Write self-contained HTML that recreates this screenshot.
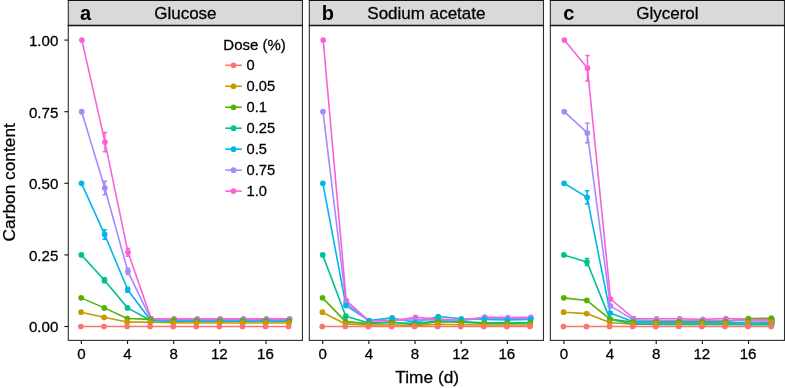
<!DOCTYPE html>
<html><head><meta charset="utf-8"><title>Carbon content</title>
<style>html,body{margin:0;padding:0;background:#fff}svg{display:block}</style></head>
<body>
<svg width="785" height="388" viewBox="0 0 785 388" font-family="Liberation Sans, Arial, sans-serif"><style>text{stroke:#000;stroke-width:0.28px;stroke-linejoin:round}</style>
<rect width="785" height="388" fill="#fff"/>
<g><polyline points="80.88,326.50 103.95,326.50 127.03,326.50 150.12,326.50 173.19,326.50 196.27,326.50 219.35,326.50 242.44,326.50 265.51,326.50 288.59,326.50" fill="none" stroke="#F8766D" stroke-width="1.6" stroke-linejoin="round"/><polyline points="81.04,312.18 104.12,317.34 127.20,321.92 150.28,322.20 173.36,322.78 196.44,323.06 219.52,323.06 242.60,323.06 265.68,323.06 288.76,323.06" fill="none" stroke="#C49A00" stroke-width="1.6" stroke-linejoin="round"/><polyline points="81.20,297.86 104.28,307.88 127.36,318.48 150.44,319.34 173.52,320.20 196.60,320.77 219.69,320.77 242.76,320.77 265.84,320.77 288.92,320.77" fill="none" stroke="#53B400" stroke-width="1.6" stroke-linejoin="round"/><polyline points="81.37,254.90 104.45,280.22 127.53,307.88 150.61,320.49 173.69,320.77 196.77,320.77 219.85,320.77 242.93,320.77 266.01,320.77 289.09,320.77" fill="none" stroke="#00C094" stroke-width="1.6" stroke-linejoin="round"/><polyline points="81.54,183.30 104.62,234.42 127.70,289.73 150.78,320.77 173.86,321.20 196.94,321.20 220.01,321.20 243.10,321.20 266.18,321.20 289.25,321.20" fill="none" stroke="#00B6EB" stroke-width="1.6" stroke-linejoin="round"/><polyline points="81.70,111.70 104.78,187.97 127.86,271.31 150.94,319.34 174.02,319.63 197.10,319.63 220.18,319.63 243.26,319.63 266.34,319.63 289.42,319.63" fill="none" stroke="#A58AFF" stroke-width="1.6" stroke-linejoin="round"/><polyline points="81.87,40.10 104.95,142.06 128.03,252.32 151.11,318.48 174.19,318.91 197.26,318.91 220.34,318.91 243.43,318.91 266.50,318.91 289.58,318.91" fill="none" stroke="#FB61D7" stroke-width="1.6" stroke-linejoin="round"/><path d="M102.64,132.46H107.26M104.95,132.46V151.65M102.64,151.65H107.26" fill="none" stroke="#FB61D7" stroke-width="1.5"/><path d="M125.72,248.43H130.34M128.03,248.43V256.22M125.72,256.22H130.34" fill="none" stroke="#FB61D7" stroke-width="1.5"/><path d="M102.47,181.24H107.09M104.78,181.24V194.70M102.47,194.70H107.09" fill="none" stroke="#A58AFF" stroke-width="1.5"/><path d="M125.55,268.16H130.17M127.86,268.16V274.46M125.55,274.46H130.17" fill="none" stroke="#A58AFF" stroke-width="1.5"/><path d="M102.31,229.67H106.93M104.62,229.67V239.18M102.31,239.18H106.93" fill="none" stroke="#00B6EB" stroke-width="1.5"/><path d="M125.39,287.15H130.00M127.70,287.15V292.30M125.39,292.30H130.00" fill="none" stroke="#00B6EB" stroke-width="1.5"/><path d="M102.14,277.64H106.76M104.45,277.64V282.80M102.14,282.80H106.76" fill="none" stroke="#00C094" stroke-width="1.5"/><path d="M125.22,306.74H129.84M127.53,306.74V309.03M125.22,309.03H129.84" fill="none" stroke="#00C094" stroke-width="1.5"/><circle cx="81.87" cy="40.10" r="2.85" fill="#FB61D7"/><circle cx="104.95" cy="142.06" r="2.85" fill="#FB61D7"/><circle cx="128.03" cy="252.32" r="2.85" fill="#FB61D7"/><circle cx="151.11" cy="318.48" r="2.85" fill="#FB61D7"/><circle cx="174.19" cy="318.91" r="2.85" fill="#FB61D7"/><circle cx="197.26" cy="318.91" r="2.85" fill="#FB61D7"/><circle cx="220.34" cy="318.91" r="2.85" fill="#FB61D7"/><circle cx="243.43" cy="318.91" r="2.85" fill="#FB61D7"/><circle cx="266.50" cy="318.91" r="2.85" fill="#FB61D7"/><circle cx="289.58" cy="318.91" r="2.85" fill="#FB61D7"/><circle cx="81.70" cy="111.70" r="2.85" fill="#A58AFF"/><circle cx="104.78" cy="187.97" r="2.85" fill="#A58AFF"/><circle cx="127.86" cy="271.31" r="2.85" fill="#A58AFF"/><circle cx="150.94" cy="319.34" r="2.85" fill="#A58AFF"/><circle cx="174.02" cy="319.63" r="2.85" fill="#A58AFF"/><circle cx="197.10" cy="319.63" r="2.85" fill="#A58AFF"/><circle cx="220.18" cy="319.63" r="2.85" fill="#A58AFF"/><circle cx="243.26" cy="319.63" r="2.85" fill="#A58AFF"/><circle cx="266.34" cy="319.63" r="2.85" fill="#A58AFF"/><circle cx="289.42" cy="319.63" r="2.85" fill="#A58AFF"/><circle cx="81.54" cy="183.30" r="2.85" fill="#00B6EB"/><circle cx="104.62" cy="234.42" r="2.85" fill="#00B6EB"/><circle cx="127.70" cy="289.73" r="2.85" fill="#00B6EB"/><circle cx="150.78" cy="320.77" r="2.85" fill="#00B6EB"/><circle cx="173.86" cy="321.20" r="2.85" fill="#00B6EB"/><circle cx="196.94" cy="321.20" r="2.85" fill="#00B6EB"/><circle cx="220.01" cy="321.20" r="2.85" fill="#00B6EB"/><circle cx="243.10" cy="321.20" r="2.85" fill="#00B6EB"/><circle cx="266.18" cy="321.20" r="2.85" fill="#00B6EB"/><circle cx="289.25" cy="321.20" r="2.85" fill="#00B6EB"/><circle cx="81.37" cy="254.90" r="2.85" fill="#00C094"/><circle cx="104.45" cy="280.22" r="2.85" fill="#00C094"/><circle cx="127.53" cy="307.88" r="2.85" fill="#00C094"/><circle cx="150.61" cy="320.49" r="2.85" fill="#00C094"/><circle cx="173.69" cy="320.77" r="2.85" fill="#00C094"/><circle cx="196.77" cy="320.77" r="2.85" fill="#00C094"/><circle cx="219.85" cy="320.77" r="2.85" fill="#00C094"/><circle cx="242.93" cy="320.77" r="2.85" fill="#00C094"/><circle cx="266.01" cy="320.77" r="2.85" fill="#00C094"/><circle cx="289.09" cy="320.77" r="2.85" fill="#00C094"/><circle cx="81.20" cy="297.86" r="2.85" fill="#53B400"/><circle cx="104.28" cy="307.88" r="2.85" fill="#53B400"/><circle cx="127.36" cy="318.48" r="2.85" fill="#53B400"/><circle cx="150.44" cy="319.34" r="2.85" fill="#53B400"/><circle cx="173.52" cy="320.20" r="2.85" fill="#53B400"/><circle cx="196.60" cy="320.77" r="2.85" fill="#53B400"/><circle cx="219.69" cy="320.77" r="2.85" fill="#53B400"/><circle cx="242.76" cy="320.77" r="2.85" fill="#53B400"/><circle cx="265.84" cy="320.77" r="2.85" fill="#53B400"/><circle cx="288.92" cy="320.77" r="2.85" fill="#53B400"/><circle cx="81.04" cy="312.18" r="2.85" fill="#C49A00"/><circle cx="104.12" cy="317.34" r="2.85" fill="#C49A00"/><circle cx="127.20" cy="321.92" r="2.85" fill="#C49A00"/><circle cx="150.28" cy="322.20" r="2.85" fill="#C49A00"/><circle cx="173.36" cy="322.78" r="2.85" fill="#C49A00"/><circle cx="196.44" cy="323.06" r="2.85" fill="#C49A00"/><circle cx="219.52" cy="323.06" r="2.85" fill="#C49A00"/><circle cx="242.60" cy="323.06" r="2.85" fill="#C49A00"/><circle cx="265.68" cy="323.06" r="2.85" fill="#C49A00"/><circle cx="288.76" cy="323.06" r="2.85" fill="#C49A00"/><circle cx="80.88" cy="326.50" r="2.85" fill="#F8766D"/><circle cx="103.95" cy="326.50" r="2.85" fill="#F8766D"/><circle cx="127.03" cy="326.50" r="2.85" fill="#F8766D"/><circle cx="150.12" cy="326.50" r="2.85" fill="#F8766D"/><circle cx="173.19" cy="326.50" r="2.85" fill="#F8766D"/><circle cx="196.27" cy="326.50" r="2.85" fill="#F8766D"/><circle cx="219.35" cy="326.50" r="2.85" fill="#F8766D"/><circle cx="242.44" cy="326.50" r="2.85" fill="#F8766D"/><circle cx="265.51" cy="326.50" r="2.85" fill="#F8766D"/><circle cx="288.59" cy="326.50" r="2.85" fill="#F8766D"/></g>
<rect x="68.3" y="0.25" width="234.13" height="25.25" fill="#D9D9D9"/>
<rect x="68.3" y="0.25" width="234.13" height="340.15" fill="none" stroke="#2e2e2e" stroke-width="1.1"/>
<path d="M67.75,0.25H302.98M67.75,25.5H302.98" fill="none" stroke="#111" stroke-width="1.35"/>
<text x="185.37" y="19.0" font-size="17.0" text-anchor="middle" fill="#000">Glucose</text>
<text x="80.10" y="19.5" font-size="20" font-weight="bold" fill="#000" style="stroke:none">a</text>
<path d="M81.37,340.4v3.6" stroke="#1a1a1a" stroke-width="1.15"/>
<text x="81.37" y="359.1" font-size="15.1" text-anchor="middle" fill="#000">0</text>
<path d="M127.53,340.4v3.6" stroke="#1a1a1a" stroke-width="1.15"/>
<text x="127.53" y="359.1" font-size="15.1" text-anchor="middle" fill="#000">4</text>
<path d="M173.69,340.4v3.6" stroke="#1a1a1a" stroke-width="1.15"/>
<text x="173.69" y="359.1" font-size="15.1" text-anchor="middle" fill="#000">8</text>
<path d="M219.85,340.4v3.6" stroke="#1a1a1a" stroke-width="1.15"/>
<text x="219.35" y="359.1" font-size="15.1" text-anchor="middle" fill="#000">12</text>
<path d="M266.01,340.4v3.6" stroke="#1a1a1a" stroke-width="1.15"/>
<text x="265.51" y="359.1" font-size="15.1" text-anchor="middle" fill="#000">16</text>
<g><polyline points="322.20,326.50 345.28,326.50 368.37,326.50 391.44,326.50 414.52,326.50 437.60,326.50 460.68,326.50 483.76,326.50 506.84,326.50 529.92,326.50" fill="none" stroke="#F8766D" stroke-width="1.6" stroke-linejoin="round"/><polyline points="322.37,312.18 345.45,323.92 368.53,325.07 391.61,324.78 414.69,325.64 437.77,324.21 460.85,324.78 483.93,325.07 507.01,325.07 530.09,325.07" fill="none" stroke="#C49A00" stroke-width="1.6" stroke-linejoin="round"/><polyline points="322.53,297.86 345.61,321.63 368.69,323.64 391.77,321.92 414.85,324.78 437.93,321.63 461.01,322.20 484.09,323.35 507.17,323.35 530.25,323.06" fill="none" stroke="#53B400" stroke-width="1.6" stroke-linejoin="round"/><polyline points="322.70,254.90 345.78,316.19 368.86,323.06 391.94,322.49 415.02,323.64 438.10,320.77 461.18,321.63 484.26,322.78 507.34,322.78 530.42,322.49" fill="none" stroke="#00C094" stroke-width="1.6" stroke-linejoin="round"/><polyline points="322.87,183.30 345.94,305.59 369.02,320.63 392.11,317.91 415.19,322.49 438.26,316.48 461.35,318.77 484.43,319.34 507.50,319.91 530.59,319.34" fill="none" stroke="#00B6EB" stroke-width="1.6" stroke-linejoin="round"/><polyline points="323.03,111.70 346.11,303.02 369.19,320.77 392.27,320.20 415.35,319.91 438.43,319.63 461.51,320.49 484.59,317.91 507.67,318.48 530.75,318.19" fill="none" stroke="#A58AFF" stroke-width="1.6" stroke-linejoin="round"/><polyline points="323.19,40.10 346.27,300.72 369.36,321.06 392.44,320.77 415.51,317.34 438.59,319.05 461.67,320.20 484.75,317.05 507.83,317.62 530.91,317.34" fill="none" stroke="#FB61D7" stroke-width="1.6" stroke-linejoin="round"/><circle cx="323.19" cy="40.10" r="2.85" fill="#FB61D7"/><circle cx="346.27" cy="300.72" r="2.85" fill="#FB61D7"/><circle cx="369.36" cy="321.06" r="2.85" fill="#FB61D7"/><circle cx="392.44" cy="320.77" r="2.85" fill="#FB61D7"/><circle cx="415.51" cy="317.34" r="2.85" fill="#FB61D7"/><circle cx="438.59" cy="319.05" r="2.85" fill="#FB61D7"/><circle cx="461.67" cy="320.20" r="2.85" fill="#FB61D7"/><circle cx="484.75" cy="317.05" r="2.85" fill="#FB61D7"/><circle cx="507.83" cy="317.62" r="2.85" fill="#FB61D7"/><circle cx="530.91" cy="317.34" r="2.85" fill="#FB61D7"/><circle cx="323.03" cy="111.70" r="2.85" fill="#A58AFF"/><circle cx="346.11" cy="303.02" r="2.85" fill="#A58AFF"/><circle cx="369.19" cy="320.77" r="2.85" fill="#A58AFF"/><circle cx="392.27" cy="320.20" r="2.85" fill="#A58AFF"/><circle cx="415.35" cy="319.91" r="2.85" fill="#A58AFF"/><circle cx="438.43" cy="319.63" r="2.85" fill="#A58AFF"/><circle cx="461.51" cy="320.49" r="2.85" fill="#A58AFF"/><circle cx="484.59" cy="317.91" r="2.85" fill="#A58AFF"/><circle cx="507.67" cy="318.48" r="2.85" fill="#A58AFF"/><circle cx="530.75" cy="318.19" r="2.85" fill="#A58AFF"/><circle cx="322.87" cy="183.30" r="2.85" fill="#00B6EB"/><circle cx="345.94" cy="305.59" r="2.85" fill="#00B6EB"/><circle cx="369.02" cy="320.63" r="2.85" fill="#00B6EB"/><circle cx="392.11" cy="317.91" r="2.85" fill="#00B6EB"/><circle cx="415.19" cy="322.49" r="2.85" fill="#00B6EB"/><circle cx="438.26" cy="316.48" r="2.85" fill="#00B6EB"/><circle cx="461.35" cy="318.77" r="2.85" fill="#00B6EB"/><circle cx="484.43" cy="319.34" r="2.85" fill="#00B6EB"/><circle cx="507.50" cy="319.91" r="2.85" fill="#00B6EB"/><circle cx="530.59" cy="319.34" r="2.85" fill="#00B6EB"/><circle cx="322.70" cy="254.90" r="2.85" fill="#00C094"/><circle cx="345.78" cy="316.19" r="2.85" fill="#00C094"/><circle cx="368.86" cy="323.06" r="2.85" fill="#00C094"/><circle cx="391.94" cy="322.49" r="2.85" fill="#00C094"/><circle cx="415.02" cy="323.64" r="2.85" fill="#00C094"/><circle cx="438.10" cy="320.77" r="2.85" fill="#00C094"/><circle cx="461.18" cy="321.63" r="2.85" fill="#00C094"/><circle cx="484.26" cy="322.78" r="2.85" fill="#00C094"/><circle cx="507.34" cy="322.78" r="2.85" fill="#00C094"/><circle cx="530.42" cy="322.49" r="2.85" fill="#00C094"/><circle cx="322.53" cy="297.86" r="2.85" fill="#53B400"/><circle cx="345.61" cy="321.63" r="2.85" fill="#53B400"/><circle cx="368.69" cy="323.64" r="2.85" fill="#53B400"/><circle cx="391.77" cy="321.92" r="2.85" fill="#53B400"/><circle cx="414.85" cy="324.78" r="2.85" fill="#53B400"/><circle cx="437.93" cy="321.63" r="2.85" fill="#53B400"/><circle cx="461.01" cy="322.20" r="2.85" fill="#53B400"/><circle cx="484.09" cy="323.35" r="2.85" fill="#53B400"/><circle cx="507.17" cy="323.35" r="2.85" fill="#53B400"/><circle cx="530.25" cy="323.06" r="2.85" fill="#53B400"/><circle cx="322.37" cy="312.18" r="2.85" fill="#C49A00"/><circle cx="345.45" cy="323.92" r="2.85" fill="#C49A00"/><circle cx="368.53" cy="325.07" r="2.85" fill="#C49A00"/><circle cx="391.61" cy="324.78" r="2.85" fill="#C49A00"/><circle cx="414.69" cy="325.64" r="2.85" fill="#C49A00"/><circle cx="437.77" cy="324.21" r="2.85" fill="#C49A00"/><circle cx="460.85" cy="324.78" r="2.85" fill="#C49A00"/><circle cx="483.93" cy="325.07" r="2.85" fill="#C49A00"/><circle cx="507.01" cy="325.07" r="2.85" fill="#C49A00"/><circle cx="530.09" cy="325.07" r="2.85" fill="#C49A00"/><circle cx="322.20" cy="326.50" r="2.85" fill="#F8766D"/><circle cx="345.28" cy="326.50" r="2.85" fill="#F8766D"/><circle cx="368.37" cy="326.50" r="2.85" fill="#F8766D"/><circle cx="391.44" cy="326.50" r="2.85" fill="#F8766D"/><circle cx="414.52" cy="326.50" r="2.85" fill="#F8766D"/><circle cx="437.60" cy="326.50" r="2.85" fill="#F8766D"/><circle cx="460.68" cy="326.50" r="2.85" fill="#F8766D"/><circle cx="483.76" cy="326.50" r="2.85" fill="#F8766D"/><circle cx="506.84" cy="326.50" r="2.85" fill="#F8766D"/><circle cx="529.92" cy="326.50" r="2.85" fill="#F8766D"/></g>
<rect x="309.33" y="0.25" width="234.14" height="25.25" fill="#D9D9D9"/>
<rect x="309.33" y="0.25" width="234.14" height="340.15" fill="none" stroke="#2e2e2e" stroke-width="1.1"/>
<path d="M308.78,0.25H544.02M308.78,25.5H544.02" fill="none" stroke="#111" stroke-width="1.35"/>
<text x="426.40" y="19.0" font-size="17.0" text-anchor="middle" fill="#000">Sodium acetate</text>
<text x="321.83" y="19.5" font-size="20" font-weight="bold" fill="#000" style="stroke:none">b</text>
<path d="M322.70,340.4v3.6" stroke="#1a1a1a" stroke-width="1.15"/>
<text x="322.70" y="359.1" font-size="15.1" text-anchor="middle" fill="#000">0</text>
<path d="M368.86,340.4v3.6" stroke="#1a1a1a" stroke-width="1.15"/>
<text x="368.86" y="359.1" font-size="15.1" text-anchor="middle" fill="#000">4</text>
<path d="M415.02,340.4v3.6" stroke="#1a1a1a" stroke-width="1.15"/>
<text x="415.02" y="359.1" font-size="15.1" text-anchor="middle" fill="#000">8</text>
<path d="M461.18,340.4v3.6" stroke="#1a1a1a" stroke-width="1.15"/>
<text x="460.68" y="359.1" font-size="15.1" text-anchor="middle" fill="#000">12</text>
<path d="M507.34,340.4v3.6" stroke="#1a1a1a" stroke-width="1.15"/>
<text x="506.84" y="359.1" font-size="15.1" text-anchor="middle" fill="#000">16</text>
<g><polyline points="563.40,326.50 586.49,326.50 609.56,326.50 632.64,326.50 655.72,326.50 678.80,326.50 701.88,326.50 724.96,326.50 748.04,326.50 771.12,326.50" fill="none" stroke="#F8766D" stroke-width="1.6" stroke-linejoin="round"/><polyline points="563.57,312.18 586.65,313.61 609.73,322.49 632.81,324.21 655.89,323.92 678.97,323.92 702.05,323.92 725.13,323.92 748.21,322.49 771.29,322.20" fill="none" stroke="#C49A00" stroke-width="1.6" stroke-linejoin="round"/><polyline points="563.74,297.86 586.82,300.44 609.89,319.05 632.98,321.92 656.06,321.63 679.13,321.63 702.22,321.63 725.30,321.63 748.38,318.48 771.45,318.19" fill="none" stroke="#53B400" stroke-width="1.6" stroke-linejoin="round"/><polyline points="563.90,254.90 586.98,262.06 610.06,319.34 633.14,323.92 656.22,324.50 679.30,324.50 702.38,324.50 725.46,324.50 748.54,324.78 771.62,324.78" fill="none" stroke="#00C094" stroke-width="1.6" stroke-linejoin="round"/><polyline points="564.06,183.30 587.14,197.33 610.22,313.04 633.30,321.63 656.38,322.20 679.46,322.20 702.54,322.20 725.62,322.20 748.70,323.06 771.78,323.35" fill="none" stroke="#00B6EB" stroke-width="1.6" stroke-linejoin="round"/><polyline points="564.23,111.70 587.31,132.89 610.39,305.88 633.47,319.91 656.55,320.49 679.63,320.49 702.71,320.49 725.79,320.49 748.87,320.77 771.95,321.06" fill="none" stroke="#A58AFF" stroke-width="1.6" stroke-linejoin="round"/><polyline points="564.39,40.10 587.48,68.17 610.55,299.01 633.63,318.48 656.71,318.77 679.79,318.77 702.88,319.34 725.95,318.48 749.03,319.34 772.12,319.91" fill="none" stroke="#FB61D7" stroke-width="1.6" stroke-linejoin="round"/><path d="M585.17,55.39H589.78M587.48,55.39V80.94M585.17,80.94H589.78" fill="none" stroke="#FB61D7" stroke-width="1.5"/><path d="M585.00,123.16H589.62M587.31,123.16V142.63M585.00,142.63H589.62" fill="none" stroke="#A58AFF" stroke-width="1.5"/><path d="M584.84,190.75H589.45M587.14,190.75V203.92M584.84,203.92H589.45" fill="none" stroke="#00B6EB" stroke-width="1.5"/><path d="M584.67,258.62H589.29M586.98,258.62V265.50M584.67,265.50H589.29" fill="none" stroke="#00C094" stroke-width="1.5"/><circle cx="564.39" cy="40.10" r="2.85" fill="#FB61D7"/><circle cx="587.48" cy="68.17" r="2.85" fill="#FB61D7"/><circle cx="610.55" cy="299.01" r="2.85" fill="#FB61D7"/><circle cx="633.63" cy="318.48" r="2.85" fill="#FB61D7"/><circle cx="656.71" cy="318.77" r="2.85" fill="#FB61D7"/><circle cx="679.79" cy="318.77" r="2.85" fill="#FB61D7"/><circle cx="702.88" cy="319.34" r="2.85" fill="#FB61D7"/><circle cx="725.95" cy="318.48" r="2.85" fill="#FB61D7"/><circle cx="749.03" cy="319.34" r="2.85" fill="#FB61D7"/><circle cx="772.12" cy="319.91" r="2.85" fill="#FB61D7"/><circle cx="564.23" cy="111.70" r="2.85" fill="#A58AFF"/><circle cx="587.31" cy="132.89" r="2.85" fill="#A58AFF"/><circle cx="610.39" cy="305.88" r="2.85" fill="#A58AFF"/><circle cx="633.47" cy="319.91" r="2.85" fill="#A58AFF"/><circle cx="656.55" cy="320.49" r="2.85" fill="#A58AFF"/><circle cx="679.63" cy="320.49" r="2.85" fill="#A58AFF"/><circle cx="702.71" cy="320.49" r="2.85" fill="#A58AFF"/><circle cx="725.79" cy="320.49" r="2.85" fill="#A58AFF"/><circle cx="748.87" cy="320.77" r="2.85" fill="#A58AFF"/><circle cx="771.95" cy="321.06" r="2.85" fill="#A58AFF"/><circle cx="564.06" cy="183.30" r="2.85" fill="#00B6EB"/><circle cx="587.14" cy="197.33" r="2.85" fill="#00B6EB"/><circle cx="610.22" cy="313.04" r="2.85" fill="#00B6EB"/><circle cx="633.30" cy="321.63" r="2.85" fill="#00B6EB"/><circle cx="656.38" cy="322.20" r="2.85" fill="#00B6EB"/><circle cx="679.46" cy="322.20" r="2.85" fill="#00B6EB"/><circle cx="702.54" cy="322.20" r="2.85" fill="#00B6EB"/><circle cx="725.62" cy="322.20" r="2.85" fill="#00B6EB"/><circle cx="748.70" cy="323.06" r="2.85" fill="#00B6EB"/><circle cx="771.78" cy="323.35" r="2.85" fill="#00B6EB"/><circle cx="563.90" cy="254.90" r="2.85" fill="#00C094"/><circle cx="586.98" cy="262.06" r="2.85" fill="#00C094"/><circle cx="610.06" cy="319.34" r="2.85" fill="#00C094"/><circle cx="633.14" cy="323.92" r="2.85" fill="#00C094"/><circle cx="656.22" cy="324.50" r="2.85" fill="#00C094"/><circle cx="679.30" cy="324.50" r="2.85" fill="#00C094"/><circle cx="702.38" cy="324.50" r="2.85" fill="#00C094"/><circle cx="725.46" cy="324.50" r="2.85" fill="#00C094"/><circle cx="748.54" cy="324.78" r="2.85" fill="#00C094"/><circle cx="771.62" cy="324.78" r="2.85" fill="#00C094"/><circle cx="563.74" cy="297.86" r="2.85" fill="#53B400"/><circle cx="586.82" cy="300.44" r="2.85" fill="#53B400"/><circle cx="609.89" cy="319.05" r="2.85" fill="#53B400"/><circle cx="632.98" cy="321.92" r="2.85" fill="#53B400"/><circle cx="656.06" cy="321.63" r="2.85" fill="#53B400"/><circle cx="679.13" cy="321.63" r="2.85" fill="#53B400"/><circle cx="702.22" cy="321.63" r="2.85" fill="#53B400"/><circle cx="725.30" cy="321.63" r="2.85" fill="#53B400"/><circle cx="748.38" cy="318.48" r="2.85" fill="#53B400"/><circle cx="771.45" cy="318.19" r="2.85" fill="#53B400"/><circle cx="563.57" cy="312.18" r="2.85" fill="#C49A00"/><circle cx="586.65" cy="313.61" r="2.85" fill="#C49A00"/><circle cx="609.73" cy="322.49" r="2.85" fill="#C49A00"/><circle cx="632.81" cy="324.21" r="2.85" fill="#C49A00"/><circle cx="655.89" cy="323.92" r="2.85" fill="#C49A00"/><circle cx="678.97" cy="323.92" r="2.85" fill="#C49A00"/><circle cx="702.05" cy="323.92" r="2.85" fill="#C49A00"/><circle cx="725.13" cy="323.92" r="2.85" fill="#C49A00"/><circle cx="748.21" cy="322.49" r="2.85" fill="#C49A00"/><circle cx="771.29" cy="322.20" r="2.85" fill="#C49A00"/><circle cx="563.40" cy="326.50" r="2.85" fill="#F8766D"/><circle cx="586.49" cy="326.50" r="2.85" fill="#F8766D"/><circle cx="609.56" cy="326.50" r="2.85" fill="#F8766D"/><circle cx="632.64" cy="326.50" r="2.85" fill="#F8766D"/><circle cx="655.72" cy="326.50" r="2.85" fill="#F8766D"/><circle cx="678.80" cy="326.50" r="2.85" fill="#F8766D"/><circle cx="701.88" cy="326.50" r="2.85" fill="#F8766D"/><circle cx="724.96" cy="326.50" r="2.85" fill="#F8766D"/><circle cx="748.04" cy="326.50" r="2.85" fill="#F8766D"/><circle cx="771.12" cy="326.50" r="2.85" fill="#F8766D"/></g>
<rect x="550.37" y="0.25" width="234.13" height="25.25" fill="#D9D9D9"/>
<rect x="550.37" y="0.25" width="234.13" height="340.15" fill="none" stroke="#2e2e2e" stroke-width="1.1"/>
<path d="M549.82,0.25H785.05M549.82,25.5H785.05" fill="none" stroke="#111" stroke-width="1.35"/>
<text x="667.43" y="19.0" font-size="17.0" text-anchor="middle" fill="#000">Glycerol</text>
<text x="563.17" y="19.5" font-size="20" font-weight="bold" fill="#000" style="stroke:none">c</text>
<path d="M563.90,340.4v3.6" stroke="#1a1a1a" stroke-width="1.15"/>
<text x="563.90" y="359.1" font-size="15.1" text-anchor="middle" fill="#000">0</text>
<path d="M610.06,340.4v3.6" stroke="#1a1a1a" stroke-width="1.15"/>
<text x="610.06" y="359.1" font-size="15.1" text-anchor="middle" fill="#000">4</text>
<path d="M656.22,340.4v3.6" stroke="#1a1a1a" stroke-width="1.15"/>
<text x="656.22" y="359.1" font-size="15.1" text-anchor="middle" fill="#000">8</text>
<path d="M702.38,340.4v3.6" stroke="#1a1a1a" stroke-width="1.15"/>
<text x="701.88" y="359.1" font-size="15.1" text-anchor="middle" fill="#000">12</text>
<path d="M748.54,340.4v3.6" stroke="#1a1a1a" stroke-width="1.15"/>
<text x="748.04" y="359.1" font-size="15.1" text-anchor="middle" fill="#000">16</text>
<path d="M68.3,326.50h-3.9" stroke="#1a1a1a" stroke-width="1.15"/>
<text x="58.3" y="332.40" font-size="15.1" text-anchor="end" fill="#000">0.00</text>
<path d="M68.3,254.90h-3.9" stroke="#1a1a1a" stroke-width="1.15"/>
<text x="58.3" y="260.80" font-size="15.1" text-anchor="end" fill="#000">0.25</text>
<path d="M68.3,183.30h-3.9" stroke="#1a1a1a" stroke-width="1.15"/>
<text x="58.3" y="189.20" font-size="15.1" text-anchor="end" fill="#000">0.50</text>
<path d="M68.3,111.70h-3.9" stroke="#1a1a1a" stroke-width="1.15"/>
<text x="58.3" y="117.60" font-size="15.1" text-anchor="end" fill="#000">0.75</text>
<path d="M68.3,40.10h-3.9" stroke="#1a1a1a" stroke-width="1.15"/>
<text x="58.3" y="46.00" font-size="15.1" text-anchor="end" fill="#000">1.00</text>
<text x="427.2" y="382.5" font-size="17.3" text-anchor="middle" fill="#000">Time (d)</text>
<text transform="translate(14.9,182.3) rotate(-90)" font-size="17.3" text-anchor="middle" fill="#000">Carbon content</text>
<text x="223.3" y="49.65" font-size="15" fill="#000">Dose (%)</text>
<path d="M225.2,65.30h16.6" stroke="#F8766D" stroke-width="1.6"/><circle cx="233.5" cy="65.30" r="2.85" fill="#F8766D"/>
<text x="246.6" y="70.35" font-size="14.7" fill="#000">0</text>
<path d="M225.2,86.27h16.6" stroke="#C49A00" stroke-width="1.6"/><circle cx="233.5" cy="86.27" r="2.85" fill="#C49A00"/>
<text x="246.6" y="91.32" font-size="14.7" fill="#000">0.05</text>
<path d="M225.2,107.24h16.6" stroke="#53B400" stroke-width="1.6"/><circle cx="233.5" cy="107.24" r="2.85" fill="#53B400"/>
<text x="246.6" y="112.29" font-size="14.7" fill="#000">0.1</text>
<path d="M225.2,128.21h16.6" stroke="#00C094" stroke-width="1.6"/><circle cx="233.5" cy="128.21" r="2.85" fill="#00C094"/>
<text x="246.6" y="133.26" font-size="14.7" fill="#000">0.25</text>
<path d="M225.2,149.18h16.6" stroke="#00B6EB" stroke-width="1.6"/><circle cx="233.5" cy="149.18" r="2.85" fill="#00B6EB"/>
<text x="246.6" y="154.23" font-size="14.7" fill="#000">0.5</text>
<path d="M225.2,170.15h16.6" stroke="#A58AFF" stroke-width="1.6"/><circle cx="233.5" cy="170.15" r="2.85" fill="#A58AFF"/>
<text x="246.6" y="175.20" font-size="14.7" fill="#000">0.75</text>
<path d="M225.2,191.12h16.6" stroke="#FB61D7" stroke-width="1.6"/><circle cx="233.5" cy="191.12" r="2.85" fill="#FB61D7"/>
<text x="246.6" y="196.17" font-size="14.7" fill="#000">1.0</text>
</svg>
</body></html>
